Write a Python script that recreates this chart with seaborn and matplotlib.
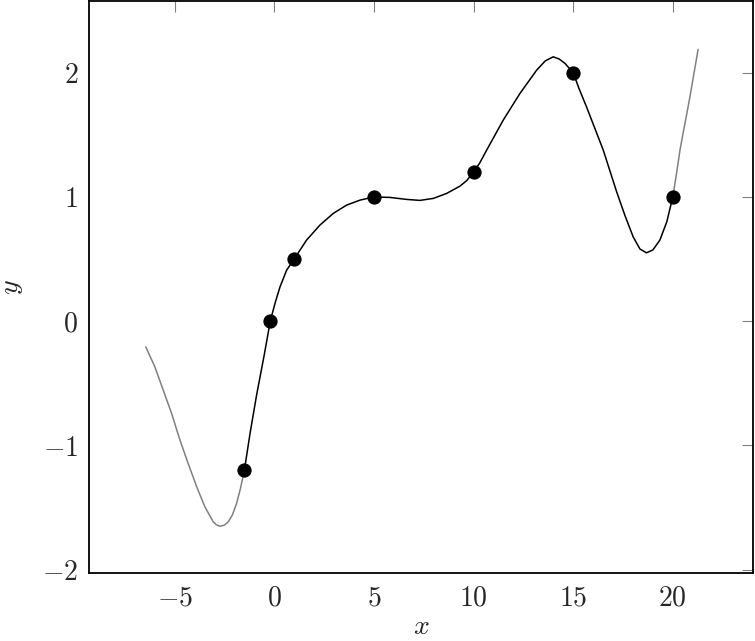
import numpy as np
import pandas as pd
import matplotlib
matplotlib.use("Agg")
import matplotlib.pyplot as plt
import seaborn as sns

# data points (markers)
x_pts = [-1.5, -0.2, 1, 5, 10, 15, 20]
y_pts = [-1.2, 0, 0.5, 1, 1.2, 2, 1]

# curve
curve_x = [-6.45, -5.99, -5.57, -5.15, -4.73, -4.32, -3.89, -3.48, -3.06, -2.9, -2.72,
           -2.5, -2.31, -2.1, -1.89, -1.7, -1.5, -1.2, -0.88, -0.5, -0.2, 0.05, 0.29,
           0.62, 1.0, 1.62, 2.29, 2.96, 3.63, 4.30, 5.0, 5.81, 6.64, 7.31, 7.98,
           8.65, 9.32, 9.65, 10.0, 10.3, 10.66, 11.49, 12.33, 13.17, 13.6, 14.0,
           14.3, 14.59, 15.0, 15.3, 15.67, 16.51, 17.18, 17.6, 18.01, 18.35, 18.68,
           19.0, 19.35, 19.7, 20.0, 20.18, 20.36, 20.86, 21.27]
curve_y = [-0.207, -0.368, -0.556, -0.743, -0.958, -1.146, -1.334, -1.495, -1.616, -1.64, -1.651,
           -1.642, -1.616, -1.56, -1.468, -1.35, -1.2, -0.89, -0.59, -0.27, 0.0, 0.15, 0.276,
           0.41, 0.5, 0.652, 0.773, 0.867, 0.934, 0.974, 1.0, 0.996, 0.98, 0.972, 0.988,
           1.028, 1.087, 1.13, 1.2, 1.27, 1.377, 1.618, 1.833, 2.021, 2.095, 2.128,
           2.11, 2.075, 2.0, 1.87, 1.725, 1.377, 1.042, 0.85, 0.679, 0.581, 0.55,
           0.573, 0.652, 0.8, 1.0, 1.18, 1.377, 1.806, 2.188]

sns.set_style("white")
plt.rcParams["mathtext.fontset"] = "cm"
plt.rcParams["font.family"] = ["DejaVu Serif"]

curve = pd.DataFrame({"x": curve_x, "y": curve_y})
inside = curve[(curve.x >= min(x_pts)) & (curve.x <= max(x_pts))]
left = curve[curve.x <= min(x_pts)]
right = curve[curve.x >= max(x_pts)]
pts = pd.DataFrame({"x": x_pts, "y": y_pts})

fig = plt.figure(figsize=(7.55, 6.41), dpi=100)
ax = fig.add_axes([0.1183, 0.1056, 0.8784, 0.8928])

for part in [left, right]:
    sns.lineplot(data=part, x="x", y="y", color="#808080", lw=1.1, ax=ax, sort=False)
sns.lineplot(data=inside, x="x", y="y", color="black", lw=1.1, ax=ax, sort=False)
sns.scatterplot(data=pts, x="x", y="y", color="black", s=90, edgecolor="black", zorder=5, ax=ax)

ax.set_xlim(-9.28, 24.0)
ax.set_ylim(-2.03, 2.577)
ax.set_xticks([-5, 0, 5, 10, 15, 20])
ax.set_yticks([-2, -1, 0, 1, 2])
ax.xaxis.set_major_formatter(plt.FuncFormatter(lambda v, p: f"${v:g}$"))
ax.yaxis.set_major_formatter(plt.FuncFormatter(lambda v, p: f"${v:g}$"))
ax.tick_params(direction="in", length=8, width=0.8, color="#808080",
               top=True, right=True, labelsize=20, pad=8)
for s in ax.spines.values():
    s.set_linewidth(1.3)
    s.set_color("black")
ax.set_xlabel("$x$", fontsize=20, labelpad=1)
ax.set_ylabel("$y$", fontsize=20, labelpad=12)

fig.savefig("out.png", dpi=100)
